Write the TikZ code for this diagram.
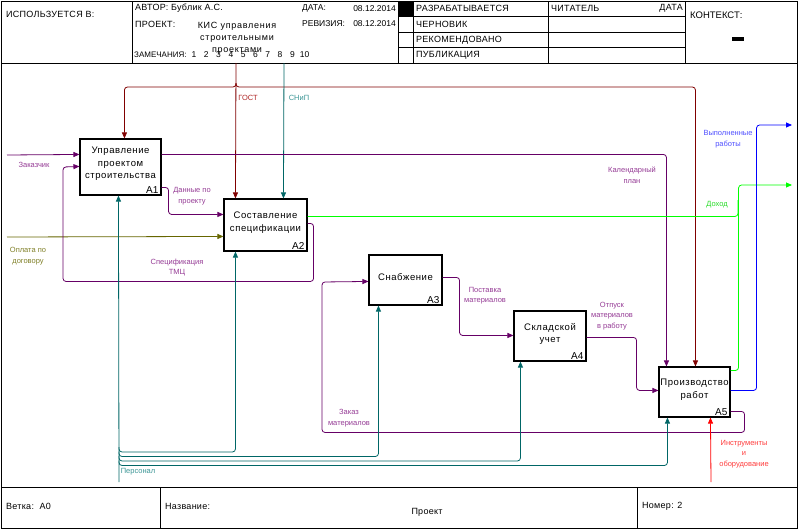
\documentclass[tikz,border=0pt]{standalone}
\usepackage{fontspec}
\setmainfont{Liberation Sans}
\usetikzlibrary{arrows.meta}
\definecolor{cgost}{RGB}{128,0,0}
\definecolor{cteal}{RGB}{0,102,102}
\definecolor{cpurp}{RGB}{102,0,102}
\definecolor{colive}{RGB}{102,102,0}
\definecolor{cgreen}{RGB}{0,255,0}
\definecolor{cblue}{RGB}{0,0,255}
\definecolor{cred}{RGB}{255,0,0}
\definecolor{lgost}{RGB}{176,40,40}
\definecolor{lteal}{RGB}{60,150,150}
\definecolor{lpurp}{RGB}{150,60,150}
\definecolor{lolive}{RGB}{128,128,40}
\definecolor{lgreen}{RGB}{40,220,40}
\definecolor{lblue}{RGB}{80,80,255}
\definecolor{lred}{RGB}{255,60,60}
\begin{document}
\begin{tikzpicture}[x=1pt,y=-1pt,
 conn/.style={line width=0.8pt, rounded corners=3pt},
 tip/.style={-{Triangle[length=6pt,width=5pt]}},
 box/.style={draw, line width=1.1pt, inner sep=0pt},
 btext/.style={font=\fontsize{9.5}{12.5}\selectfont\addfontfeature{LetterSpace=6}, align=center, inner sep=0pt},
 bnum/.style={font=\fontsize{10}{12}\selectfont, anchor=south east, inner xsep=3pt, inner ysep=1.5pt},
 lab/.style={font=\fontsize{7.5}{10.5}\selectfont, align=center, inner sep=0pt},
 hdr/.style={font=\fontsize{9}{12}\selectfont\addfontfeature{LetterSpace=3}, anchor=west, inner sep=0pt},
 hdrs/.style={font=\fontsize{8.5}{10}\selectfont, anchor=west, inner sep=0pt},
 frm/.style={line width=0.8pt}
]
\useasboundingbox (0,0) rectangle (799,530);
\fill[white] (0,0) rectangle (799,530);
% frame
\draw[frm] (1,1) rectangle (797,528);
\draw[frm] (1,63) -- (797,63);
\draw[frm] (1,487) -- (797,487);
\draw[frm] (132,1) -- (132,63);
\draw[frm] (398,1) -- (398,63);
\draw[frm] (413,1) -- (413,63);
\draw[frm] (548,1) -- (548,63);
\draw[frm] (685,1) -- (685,63);
\draw[frm] (398,16) -- (685,16);
\draw[frm] (398,32) -- (685,32);
\draw[frm] (398,47) -- (685,47);
\fill (398,1) rectangle (413,16);
\draw[frm] (160,487) -- (160,528);
\draw[frm] (637,487) -- (637,528);
% header text
\node[hdr] (h1) at (6,14.5) {ИСПОЛЬЗУЕТСЯ В:};
\node[hdr] (h2) at (135,8.5) {АВТОР: Бублик А.С.};
\node[hdrs] (h3) at (302,8.5) {ДАТА:};
\node[hdrs,anchor=east] (h4) at (396,8.5) {08.12.2014};
\node[hdr] (h5) at (135,24) {ПРОЕКТ:};
\node[hdr,anchor=center,align=center,font=\fontsize{9}{12}\selectfont\addfontfeature{LetterSpace=8}] (h6) at (237,38) {КИС управления\\строительными\\проектами};
\node[hdrs] (h7) at (302,24) {РЕВИЗИЯ:};
\node[hdrs,anchor=east] (h7d) at (396,24) {08.12.2014};
\node[hdrs,font=\fontsize{8}{10}\selectfont] (h8) at (134,55) {ЗАМЕЧАНИЯ:};
\foreach \i in {1,...,10} {
  \node[hdrs,anchor=center] (n\i) at ({194+12.3*(\i-1)},55) {\i};
}
\node[hdr] (s1) at (416,8.5) {РАЗРАБАТЫВАЕТСЯ};
\node[hdr] (s2) at (416,24.5) {ЧЕРНОВИК};
\node[hdr] (s3) at (416,40) {РЕКОМЕНДОВАНО};
\node[hdr] (s4) at (416,55.5) {ПУБЛИКАЦИЯ};
\node[hdr] (r1) at (551,8.5) {ЧИТАТЕЛЬ};
\node[hdr,anchor=east] (r2) at (683,8.5) {ДАТА};
\node[hdr,font=\fontsize{9.5}{12}\selectfont] (k1) at (690,15.5) {КОНТЕКСТ:};
\fill (732,37) rectangle (744,41);
% footer text
\node[hdr] (f1) at (6,506) {Ветка:\ \ A0};
\node[hdr] (f2) at (165,506) {Название:};
\node[hdr,anchor=center] (f3) at (427,512) {Проект};
\node[hdr] (f4) at (642,506) {Номер: 2};
% boxes
\node[box, minimum width=81pt, minimum height=56pt] (A1) at (120.5,167) {};
\node[box, minimum width=83pt, minimum height=52pt] (A2) at (265.5,225) {};
\node[box, minimum width=73pt, minimum height=50pt] (A3) at (405.5,280) {};
\node[box, minimum width=72pt, minimum height=50pt] (A4) at (550,336) {};
\node[box, minimum width=71pt, minimum height=50pt] (A5) at (694.5,392) {};
\node[btext] (A1t) at (120.5,164) {Управление\\проектом\\строительства};
\node[btext] (A2t) at (265.5,222.5) {Составление\\спецификации};
\node[btext] (A3t) at (405.5,277) {Снабжение};
\node[btext] (A4t) at (550,334) {Складской\\учет};
\node[btext] (A5t) at (694.5,389.5) {Производство\\работ};
\node[bnum] (A1n) at (A1.south east) {A1};
\node[bnum] (A2n) at (A2.south east) {A2};
\node[bnum] (A3n) at (A3.south east) {A3};
\node[bnum] (A4n) at (A4.south east) {A4};
\node[bnum] (A5n) at (A5.south east) {A5};
% boundary coordinates
\coordinate (gostIn) at (236,63);
\coordinate (gostJ) at (236,87);
\coordinate (snipIn) at (284,63);
\coordinate (zakIn) at (7,155);
\coordinate (oplIn) at (7,237);
\coordinate (dohOut) at (792,185);
\coordinate (vypOut) at (792,125);
\coordinate (instIn) at (711,482);
\coordinate (persIn) at (119,482);
\coordinate (pj1) at (119,452);
\coordinate (pj2) at (119,456.5);
\coordinate (pj3) at (119,461);
\coordinate (pj4) at (119,465.5);
\coordinate (specL) at (63,167);
\coordinate (zmL) at (322,282);
\coordinate (dohJ) at (738,200);
% connectors
\draw[conn,tip,cgost] (gostIn) -- ([xshift=12pt]A2.north west);
\draw[conn,tip,cgost] ([yshift=4pt]gostJ) -- (gostJ) -| ([xshift=45pt]A1.north west);
\draw[conn,tip,cgost] ([yshift=4pt]gostJ) -- (gostJ) -| ([xshift=37pt]A5.north west);
\draw[conn,tip,cteal] (snipIn) -- ([xshift=60pt]A2.north west);
\draw[conn,tip,cpurp] (zakIn) -- ([yshift=-16pt]A1.north west);
\draw[conn,tip,cpurp] ([yshift=-16pt]A1.north east) -| ([xshift=8pt]A5.north west);
\draw[conn,tip,cpurp] ([yshift=-49pt]A1.north east) -- ++(7,0) |- ([yshift=-16pt]A2.north west);
\draw[conn,tip,colive] (oplIn) -- ([yshift=-38pt]A2.north west);
\draw[conn,tip,cpurp] ([yshift=-25pt]A2.north east) -- ++(6,0) -- ++(0,58) -| (specL) -- ([yshift=-28pt]A1.north west);
\draw[conn,tip,cgreen] ([yshift=-4pt]A5.north east) -- ++(8,0) |- (dohOut);
\draw[conn,cgreen] ([yshift=-18pt]A2.north east) -| (dohJ);
\draw[conn,tip,cblue] ([yshift=-24pt]A5.north east) -- ++(26,0) |- (vypOut);
\draw[conn,tip,cpurp] ([yshift=-45pt]A5.north east) -- ++(14,0) -- ++(0,21) -| (zmL) -- ([yshift=-27pt]A3.north west);
\draw[conn,tip,cpurp] ([yshift=-23pt]A3.north east) -- ++(17,0) |- ([yshift=-25pt]A4.north west);
\draw[conn,tip,cpurp] ([yshift=-27pt]A4.north east) -- ++(50,0) |- ([yshift=-24pt]A5.north west);
\draw[conn,tip,cred] (instIn) -- ([xshift=52pt]A5.south west);
\draw[conn,tip,cteal] (persIn) -- ([xshift=39pt]A1.south west);
\draw[conn,tip,cteal] ([yshift=5pt]pj1) -- (pj1) -| ([xshift=12pt]A2.south west);
\draw[conn,tip,cteal] ([yshift=5pt]pj2) -- (pj2) -| ([xshift=10pt]A3.south west);
\draw[conn,tip,cteal] ([yshift=5pt]pj3) -- (pj3) -| ([xshift=7pt]A4.south west);
\draw[conn,tip,cteal] ([yshift=5pt]pj4) -- (pj4) -| ([xshift=9pt]A5.south west);
% labels
\node[lab,text=lgost] (lGost) at (248,98) {ГОСТ};
\node[lab,text=lteal] (lSnip) at (299,98) {СНиП};
\node[lab,text=lpurp] (lZak) at (34,165) {Заказчик};
\node[lab,text=lpurp] (lDan) at (192,196) {Данные по\\проекту};
\node[lab,text=lolive] (lOpl) at (28,256) {Оплата по\\договору};
\node[lab,text=lpurp] (lSpec) at (177,267.5) {Спецификация\\ТМЦ};
\node[lab,text=lpurp] (lKal) at (632,175.5) {Календарный\\план};
\node[lab,text=lblue] (lVyp) at (728,139) {Выполненные\\работы};
\node[lab,text=lgreen] (lDoh) at (717,205) {Доход};
\node[lab,text=lpurp] (lZm) at (349,418) {Заказ\\материалов};
\node[lab,text=lpurp] (lPost) at (485,295.5) {Поставка\\материалов};
\node[lab,text=lpurp] (lOtp) at (612,316) {Отпуск\\материалов\\в работу};
\node[lab,text=lred] (lInst) at (744,454) {Инструменты\\и\\оборудование};
\node[lab,text=lteal] (lPers) at (138,472) {Персонал};
\end{tikzpicture}
\end{document}
